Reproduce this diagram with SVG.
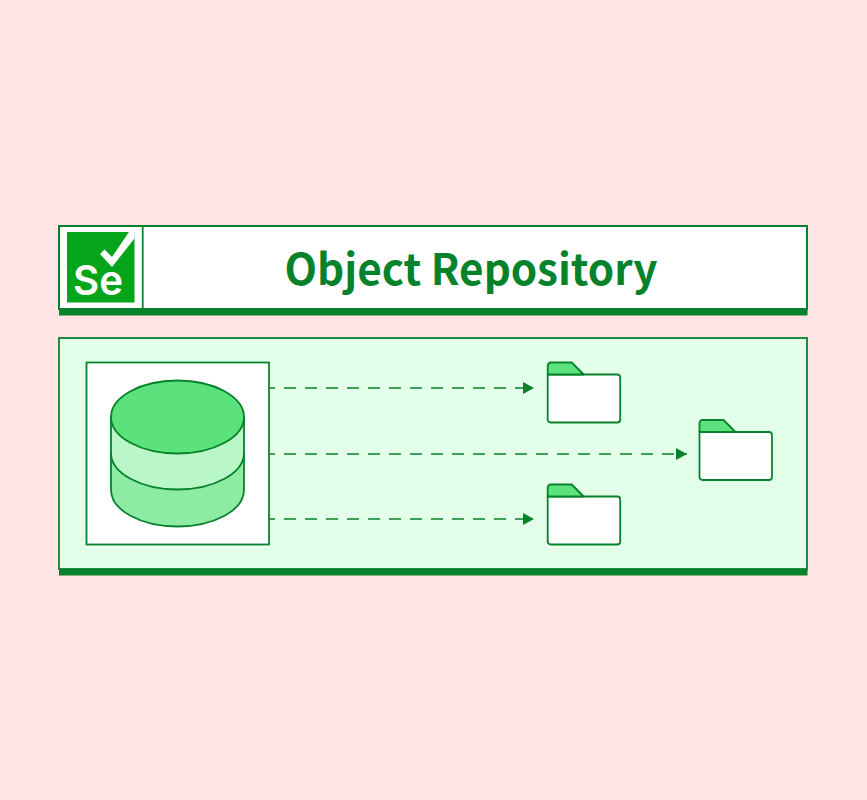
<svg xmlns="http://www.w3.org/2000/svg" width="867" height="800" viewBox="0 0 867 800">
<style>
.ln{stroke:#06822b;stroke-width:1.800}
.bar{fill:#06822b}
.dash{stroke:#06822b;stroke-width:1.500;stroke-dasharray:12 9;stroke-dashoffset:7;fill:none;marker-end:url(#arr)}
.tab{fill:#5ce27c;stroke:#06822b;stroke-width:1.800;stroke-linejoin:round}
.fb{fill:#fff;stroke:#06822b;stroke-width:1.800}
</style>
<defs>
<marker id="arr" markerUnits="userSpaceOnUse" markerWidth="11" markerHeight="12" refX="11" refY="6" orient="auto"><path d="M0 0L11 6L0 12Z" fill="#06822b"/></marker>
<g id="folder">
<path class="fb" d="M0 12H69.500a3 3 0 0 1 3 3V57a3 3 0 0 1 -3 3H3a3 3 0 0 1 -3 -3V12Z"/>
<path class="tab" d="M0 12V3a3 3 0 0 1 3 -3H24L36 12Z"/>
</g>
</defs>
<rect width="867" height="800" fill="#ffe4e6"/>
<g id="header">
<rect class="bar" x="59" y="308" width="748.500" height="7.500"/>
<rect class="ln" x="59" y="226" width="748" height="83" fill="#fff" style="stroke-width:2"/>
<line class="ln" x1="142.700" y1="226" x2="142.700" y2="309"/>
<text x="471" y="284.500" text-anchor="middle" font-family="'Noto Sans CJK SC','Noto Sans',sans-serif" font-weight="700" font-size="43" fill="#06822b" opacity="0.999" textLength="373" lengthAdjust="spacingAndGlyphs">Object Repository</text>
</g>
<g id="logo">
<rect x="67" y="232" width="67.500" height="70.500" fill="#05a51b"/>
<path d="M100 254L104.500 249.500L112 257L129 232H134.500V238.500L112 267Z" fill="#fff"/>
<text x="73" y="295" font-family="'Inter',sans-serif" font-weight="600" font-size="41" fill="#fff" opacity="0.999" textLength="50" lengthAdjust="spacingAndGlyphs">Se</text>
</g>
<g id="panel">
<rect class="bar" x="59" y="568" width="748.500" height="7.500"/>
<rect class="ln" x="59" y="338" width="748" height="231" fill="#e4ffe9"/>
</g>
<g id="database">
<rect class="ln" x="86.500" y="362.500" width="182.500" height="182" fill="#fff"/>
<path class="ln" d="M111 453V490A66.500 36.500 0 0 0 244 490V453Z" fill="#8eeba3"/>
<path class="ln" d="M111 417V453A66.500 36.500 0 0 0 244 453V417Z" fill="#b9f6c8"/>
<ellipse class="ln" cx="177.500" cy="417" rx="66.500" ry="36.500" fill="#5ce27c"/>
</g>
<g id="connectors">
<path class="dash" d="M270 388H534"/>
<path class="dash" d="M270 454H687"/>
<path class="dash" d="M270 519H534"/>
</g>
<g id="folder-1"><use href="#folder" x="547.700" y="362.500"/></g>
<g id="folder-2"><use href="#folder" x="699.500" y="420"/></g>
<g id="folder-3"><use href="#folder" x="547.700" y="484.500"/></g>
</svg>
